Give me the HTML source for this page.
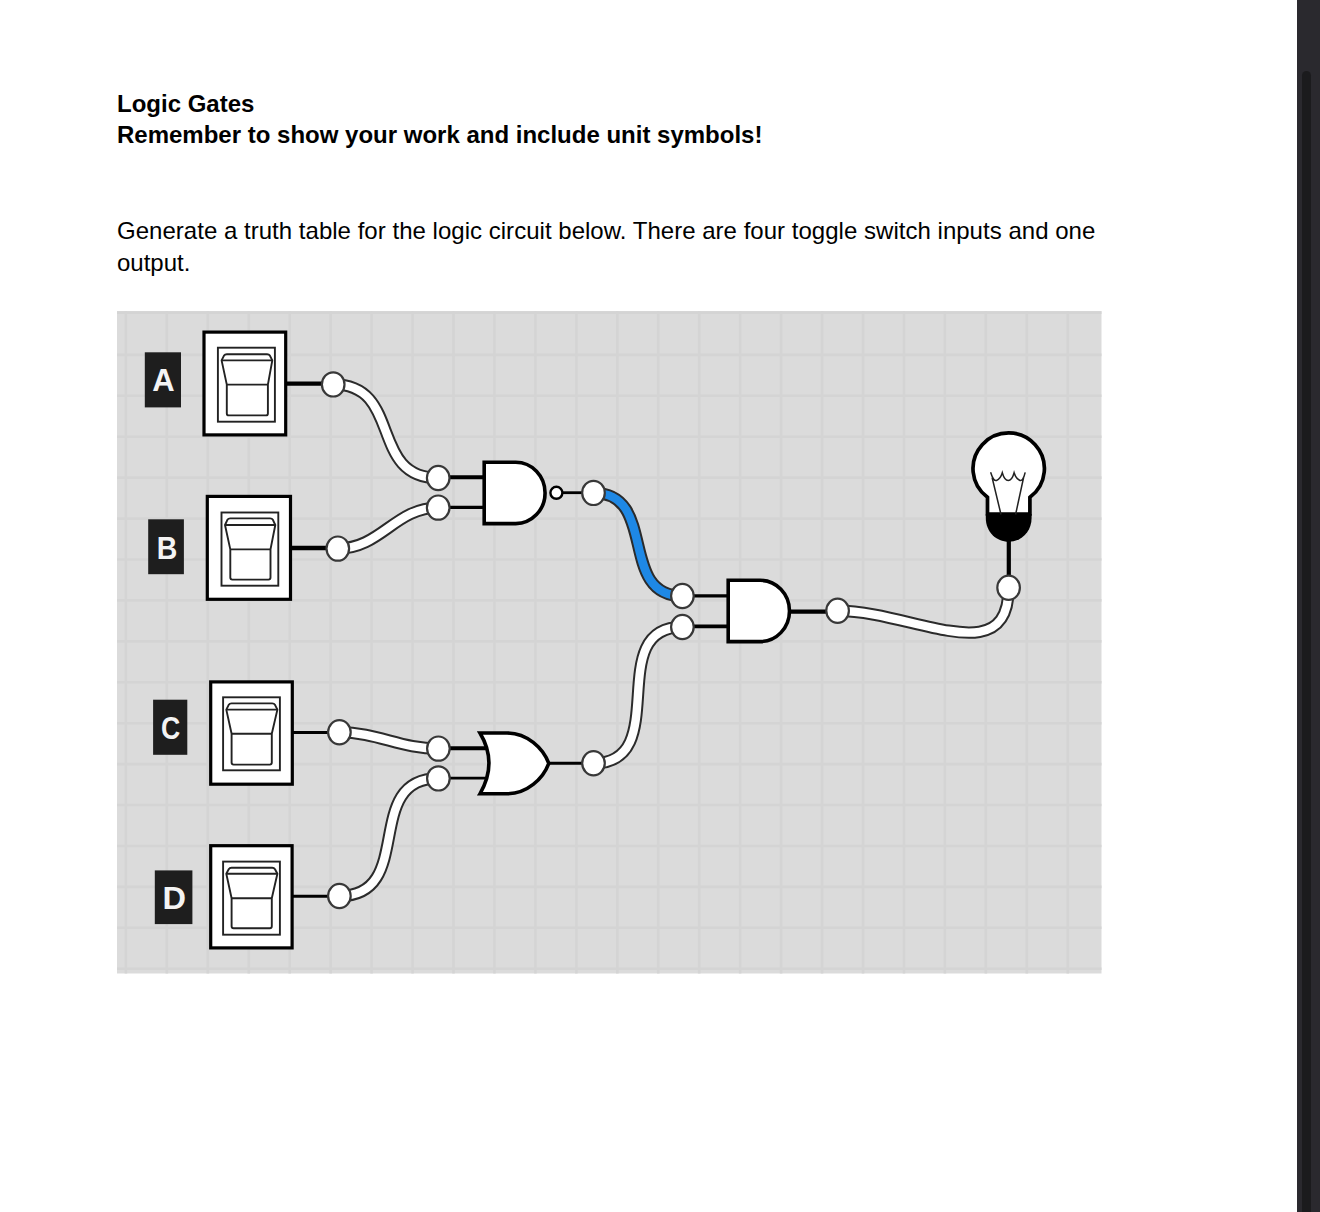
<!DOCTYPE html>
<html><head><meta charset="utf-8"><style>
html,body{margin:0;padding:0;background:#fff;width:1320px;height:1212px;overflow:hidden;}
body{position:relative;font-family:"Liberation Sans",sans-serif;color:#000;}
.t{position:absolute;left:117px;white-space:nowrap;font-size:24px;line-height:32px;margin:0;}
.b{font-weight:bold;}
#sb{position:absolute;left:1297px;top:0;width:23px;height:1212px;background:#2a292e;}
#th{position:absolute;left:1302px;top:71px;width:9px;height:1212px;background:#1b1b1d;border-radius:4.5px;}
svg{position:absolute;left:0;top:0;}
</style></head><body>
<div class="t b" id="l1" style="top:87.8px">Logic Gates</div>
<div class="t b" id="l2" style="top:118.9px">Remember to show your work and include unit symbols!</div>
<div class="t" id="l3" style="top:214.5px;letter-spacing:0.023px">Generate a truth table for the logic circuit below. There are four toggle switch inputs and one</div>
<div class="t" id="l4" style="top:246.8px">output.</div>
<svg width="1320" height="1212" viewBox="0 0 1320 1212"><rect x="117" y="311" width="984.5" height="662.5" fill="#dbdbdb"/><g stroke="#d4d4d4" stroke-width="2.6"><line x1="125.9" y1="311" x2="125.9" y2="973.5"/><line x1="166.85" y1="311" x2="166.85" y2="973.5"/><line x1="207.8" y1="311" x2="207.8" y2="973.5"/><line x1="248.75" y1="311" x2="248.75" y2="973.5"/><line x1="289.7" y1="311" x2="289.7" y2="973.5"/><line x1="330.65" y1="311" x2="330.65" y2="973.5"/><line x1="371.6" y1="311" x2="371.6" y2="973.5"/><line x1="412.55" y1="311" x2="412.55" y2="973.5"/><line x1="453.5" y1="311" x2="453.5" y2="973.5"/><line x1="494.45" y1="311" x2="494.45" y2="973.5"/><line x1="535.4" y1="311" x2="535.4" y2="973.5"/><line x1="576.35" y1="311" x2="576.35" y2="973.5"/><line x1="617.3" y1="311" x2="617.3" y2="973.5"/><line x1="658.25" y1="311" x2="658.25" y2="973.5"/><line x1="699.2" y1="311" x2="699.2" y2="973.5"/><line x1="740.15" y1="311" x2="740.15" y2="973.5"/><line x1="781.1" y1="311" x2="781.1" y2="973.5"/><line x1="822.05" y1="311" x2="822.05" y2="973.5"/><line x1="863" y1="311" x2="863" y2="973.5"/><line x1="903.95" y1="311" x2="903.95" y2="973.5"/><line x1="944.9" y1="311" x2="944.9" y2="973.5"/><line x1="985.85" y1="311" x2="985.85" y2="973.5"/><line x1="1026.8" y1="311" x2="1026.8" y2="973.5"/><line x1="1067.75" y1="311" x2="1067.75" y2="973.5"/><line x1="117" y1="312.6" x2="1101.5" y2="312.6"/><line x1="117" y1="354.9" x2="1101.5" y2="354.9"/><line x1="117" y1="395.82" x2="1101.5" y2="395.82"/><line x1="117" y1="436.74" x2="1101.5" y2="436.74"/><line x1="117" y1="477.66" x2="1101.5" y2="477.66"/><line x1="117" y1="518.58" x2="1101.5" y2="518.58"/><line x1="117" y1="559.5" x2="1101.5" y2="559.5"/><line x1="117" y1="600.42" x2="1101.5" y2="600.42"/><line x1="117" y1="641.34" x2="1101.5" y2="641.34"/><line x1="117" y1="682.26" x2="1101.5" y2="682.26"/><line x1="117" y1="723.18" x2="1101.5" y2="723.18"/><line x1="117" y1="764.1" x2="1101.5" y2="764.1"/><line x1="117" y1="805.02" x2="1101.5" y2="805.02"/><line x1="117" y1="845.94" x2="1101.5" y2="845.94"/><line x1="117" y1="886.86" x2="1101.5" y2="886.86"/><line x1="117" y1="927.78" x2="1101.5" y2="927.78"/><line x1="117" y1="968.7" x2="1101.5" y2="968.7"/></g><line x1="286" y1="383.7" x2="325" y2="383.7" stroke="#000" stroke-width="4.3"/><line x1="291" y1="548" x2="328" y2="548" stroke="#000" stroke-width="4.5"/><line x1="293" y1="732.4" x2="330" y2="732.4" stroke="#000" stroke-width="3.0"/><line x1="293" y1="896.3" x2="330" y2="896.3" stroke="#000" stroke-width="3.0"/><line x1="440" y1="477.2" x2="485" y2="477.2" stroke="#000" stroke-width="3.9"/><line x1="440" y1="507.4" x2="485" y2="507.4" stroke="#000" stroke-width="3.3"/><line x1="562" y1="492.7" x2="585" y2="492.7" stroke="#000" stroke-width="2.8"/><line x1="684" y1="595.9" x2="729" y2="595.9" stroke="#000" stroke-width="3.2"/><line x1="684" y1="626.4" x2="729" y2="626.4" stroke="#000" stroke-width="3.8"/><line x1="789" y1="611.6" x2="830" y2="611.6" stroke="#000" stroke-width="4.2"/><line x1="440" y1="748.2" x2="488" y2="748.2" stroke="#000" stroke-width="4.0"/><line x1="440" y1="778.1" x2="488" y2="778.1" stroke="#000" stroke-width="2.9"/><line x1="548" y1="763.3" x2="585" y2="763.3" stroke="#000" stroke-width="3.1"/><line x1="1008.8" y1="540" x2="1008.8" y2="578" stroke="#000" stroke-width="4.2"/><path d="M333.2 384.4C403.2 384.4 368.2 478 438.2 478" fill="none" stroke="#2b2b2b" stroke-width="12.4"/><path d="M333.2 384.4C403.2 384.4 368.2 478 438.2 478" fill="none" stroke="#fff" stroke-width="8.4"/><path d="M337.8 548.6C380.8 548.6 395.2 507.6 438.2 507.6" fill="none" stroke="#2b2b2b" stroke-width="12.4"/><path d="M337.8 548.6C380.8 548.6 395.2 507.6 438.2 507.6" fill="none" stroke="#fff" stroke-width="8.4"/><path d="M593.5 492.9C658.5 492.9 617.4 596 682.4 596" fill="none" stroke="#2b2b2b" stroke-width="12.4"/><path d="M593.5 492.9C658.5 492.9 617.4 596 682.4 596" fill="none" stroke="#1e88e5" stroke-width="8.4"/><path d="M339.4 732.3C377.4 732.3 400.4 748.6 438.4 748.6" fill="none" stroke="#2b2b2b" stroke-width="12.4"/><path d="M339.4 732.3C377.4 732.3 400.4 748.6 438.4 748.6" fill="none" stroke="#fff" stroke-width="8.4"/><path d="M339.4 896C416.4 896 361.4 778.4 438.4 778.4" fill="none" stroke="#2b2b2b" stroke-width="12.4"/><path d="M339.4 896C416.4 896 361.4 778.4 438.4 778.4" fill="none" stroke="#fff" stroke-width="8.4"/><path d="M593.5 763.3C673.5 763.3 602.4 627 682.4 627" fill="none" stroke="#2b2b2b" stroke-width="12.4"/><path d="M593.5 763.3C673.5 763.3 602.4 627 682.4 627" fill="none" stroke="#fff" stroke-width="8.4"/><path d="M837.6 610.8C912.6 610.8 1008.6 672.8 1008.6 587.8" fill="none" stroke="#2b2b2b" stroke-width="12.4"/><path d="M837.6 610.8C912.6 610.8 1008.6 672.8 1008.6 587.8" fill="none" stroke="#fff" stroke-width="8.4"/><ellipse cx="333.2" cy="384.4" rx="11.3" ry="12.1" fill="#fff" stroke="#383838" stroke-width="2.2"/><ellipse cx="337.8" cy="548.6" rx="11.3" ry="12.1" fill="#fff" stroke="#383838" stroke-width="2.2"/><ellipse cx="339.4" cy="732.3" rx="11.3" ry="12.1" fill="#fff" stroke="#383838" stroke-width="2.2"/><ellipse cx="339.4" cy="896" rx="11.3" ry="12.1" fill="#fff" stroke="#383838" stroke-width="2.2"/><ellipse cx="438.2" cy="478" rx="11.3" ry="12.1" fill="#fff" stroke="#383838" stroke-width="2.2"/><ellipse cx="438.2" cy="507.6" rx="11.3" ry="12.1" fill="#fff" stroke="#383838" stroke-width="2.2"/><ellipse cx="593.5" cy="492.9" rx="11.3" ry="12.1" fill="#fff" stroke="#383838" stroke-width="2.2"/><ellipse cx="682.4" cy="596" rx="11.3" ry="12.1" fill="#fff" stroke="#383838" stroke-width="2.2"/><ellipse cx="682.4" cy="627" rx="11.3" ry="12.1" fill="#fff" stroke="#383838" stroke-width="2.2"/><ellipse cx="837.6" cy="610.8" rx="11.3" ry="12.1" fill="#fff" stroke="#383838" stroke-width="2.2"/><ellipse cx="438.4" cy="748.6" rx="11.3" ry="12.1" fill="#fff" stroke="#383838" stroke-width="2.2"/><ellipse cx="438.4" cy="778.4" rx="11.3" ry="12.1" fill="#fff" stroke="#383838" stroke-width="2.2"/><ellipse cx="593.5" cy="763.3" rx="11.3" ry="12.1" fill="#fff" stroke="#383838" stroke-width="2.2"/><ellipse cx="1008.6" cy="587.8" rx="11.3" ry="12.1" fill="#fff" stroke="#383838" stroke-width="2.2"/><path d="M484.2 462.3H515.7A29.4 30.65 0 0 1 515.7 523.6H484.2Z" fill="#fff" stroke="#000" stroke-width="3.6"/><circle cx="556.4" cy="492.8" r="6" fill="#fff" stroke="#000" stroke-width="2.4"/><path d="M728.2 580.3H760.1A29.4 30.65 0 0 1 760.1 641.6H728.2Z" fill="#fff" stroke="#000" stroke-width="3.6"/><path d="M480 733H507C527 733 543 748 548.8 763.4C543 779 527 793.8 507 793.8H480C492 773 492 753 480 733Z" fill="#fff" stroke="#000" stroke-width="3.6" stroke-linejoin="miter"/><rect x="204" y="332.1" width="81.7" height="102.8" fill="#fff" stroke="#000" stroke-width="3.2"/><rect x="217.9" y="347.7" width="57" height="74" fill="none" stroke="#222" stroke-width="1.9"/><path d="M221.6 360.4L224 355.6Q224.9 354.2 226.8 354.2H267.1Q269 354.2 269.9 355.6L272.3 360.4L267.9 384.6V413.4Q267.9 415.4 265.9 415.4H228.8Q226.8 415.4 226.8 413.4V384.6Z" fill="#fff" stroke="#222" stroke-width="1.9" stroke-linejoin="round"/><path d="M221.6 360.4H272.3M226.8 384.6H267.9" stroke="#222" stroke-width="1.9"/><rect x="207.3" y="496.4" width="83.2" height="102.9" fill="#fff" stroke="#000" stroke-width="3.2"/><rect x="221.5" y="512.5" width="56.8" height="73.2" fill="none" stroke="#222" stroke-width="1.9"/><path d="M225 525L227.4 519.8Q228.3 518.4 230.2 518.4H270.1Q272 518.4 272.9 519.8L275.3 525L270.5 549.4V577.6Q270.5 579.6 268.5 579.6H232.3Q230.3 579.6 230.3 577.6V549.4Z" fill="#fff" stroke="#222" stroke-width="1.9" stroke-linejoin="round"/><path d="M225 525H275.3M230.3 549.4H270.5" stroke="#222" stroke-width="1.9"/><rect x="210.7" y="681.9" width="81.6" height="102.3" fill="#fff" stroke="#000" stroke-width="3.2"/><rect x="223.1" y="697.3" width="56.8" height="73" fill="none" stroke="#222" stroke-width="1.9"/><path d="M226.3 709.6L228.7 704.8Q229.6 703.4 231.5 703.4H272.2Q274.1 703.4 275 704.8L277.4 709.6L271.8 733.8V762.6Q271.8 764.6 269.8 764.6H233.6Q231.6 764.6 231.6 762.6V733.8Z" fill="#fff" stroke="#222" stroke-width="1.9" stroke-linejoin="round"/><path d="M226.3 709.6H277.4M231.6 733.8H271.8" stroke="#222" stroke-width="1.9"/><rect x="210.7" y="845.7" width="81.4" height="102.2" fill="#fff" stroke="#000" stroke-width="3.2"/><rect x="223.1" y="861.6" width="56.8" height="73.1" fill="none" stroke="#222" stroke-width="1.9"/><path d="M226.3 873.7L228.7 869.2Q229.6 867.8 231.5 867.8H272.2Q274.1 867.8 275 869.2L277.4 873.7L271.8 898.2V926.2Q271.8 928.2 269.8 928.2H233.6Q231.6 928.2 231.6 926.2V898.2Z" fill="#fff" stroke="#222" stroke-width="1.9" stroke-linejoin="round"/><path d="M226.3 873.7H277.4M231.6 898.2H271.8" stroke="#222" stroke-width="1.9"/><rect x="144.8" y="352.3" width="36.2" height="55.1" fill="#1e1e1e"/><text x="0" y="0" transform="translate(163.35 391.3) scale(1.0 1)" text-anchor="middle" fill="#f4f4f4" font-family="Liberation Sans" font-weight="bold" font-size="31">A</text><rect x="148.2" y="519.3" width="35.7" height="54.9" fill="#1e1e1e"/><text x="0" y="0" transform="translate(167 558.6) scale(0.92 1)" text-anchor="middle" fill="#f4f4f4" font-family="Liberation Sans" font-weight="bold" font-size="31">B</text><rect x="153.1" y="699.7" width="34.2" height="55.1" fill="#1e1e1e"/><text x="0" y="0" transform="translate(170.6 738.7) scale(0.86 1)" text-anchor="middle" fill="#f4f4f4" font-family="Liberation Sans" font-weight="bold" font-size="31">C</text><rect x="154.8" y="870.4" width="37.6" height="53.7" fill="#1e1e1e"/><text x="0" y="0" transform="translate(174.2 909.1) scale(1.05 1)" text-anchor="middle" fill="#f4f4f4" font-family="Liberation Sans" font-weight="bold" font-size="31">D</text><path d="M987.5 497.32A35.7 35.7 0 1 1 1029.9 497.32V514H987.5Z" fill="#fff" stroke="#000" stroke-width="3.7"/><path d="M985.8 514H1031.6V518C1031.6 532 1021 541.8 1008.7 541.8C996.4 541.8 985.8 532 985.8 518Z" fill="#000"/><path d="M990.6 472.3Q993.5 481.5 996.5 480.5Q1000.5 479 1002.3 472.8Q1004.5 480.5 1008.2 480.5Q1012 480.5 1014.1 472.8Q1016 479 1020 480.5Q1023 481.5 1025.2 472.3M992.1 477.5L1001 514.5M1023.6 477.5L1015.6 514.5" fill="none" stroke="#222" stroke-width="1.5" stroke-linejoin="miter"/></svg>
<div id="sb"></div><div id="th"></div>
</body></html>
